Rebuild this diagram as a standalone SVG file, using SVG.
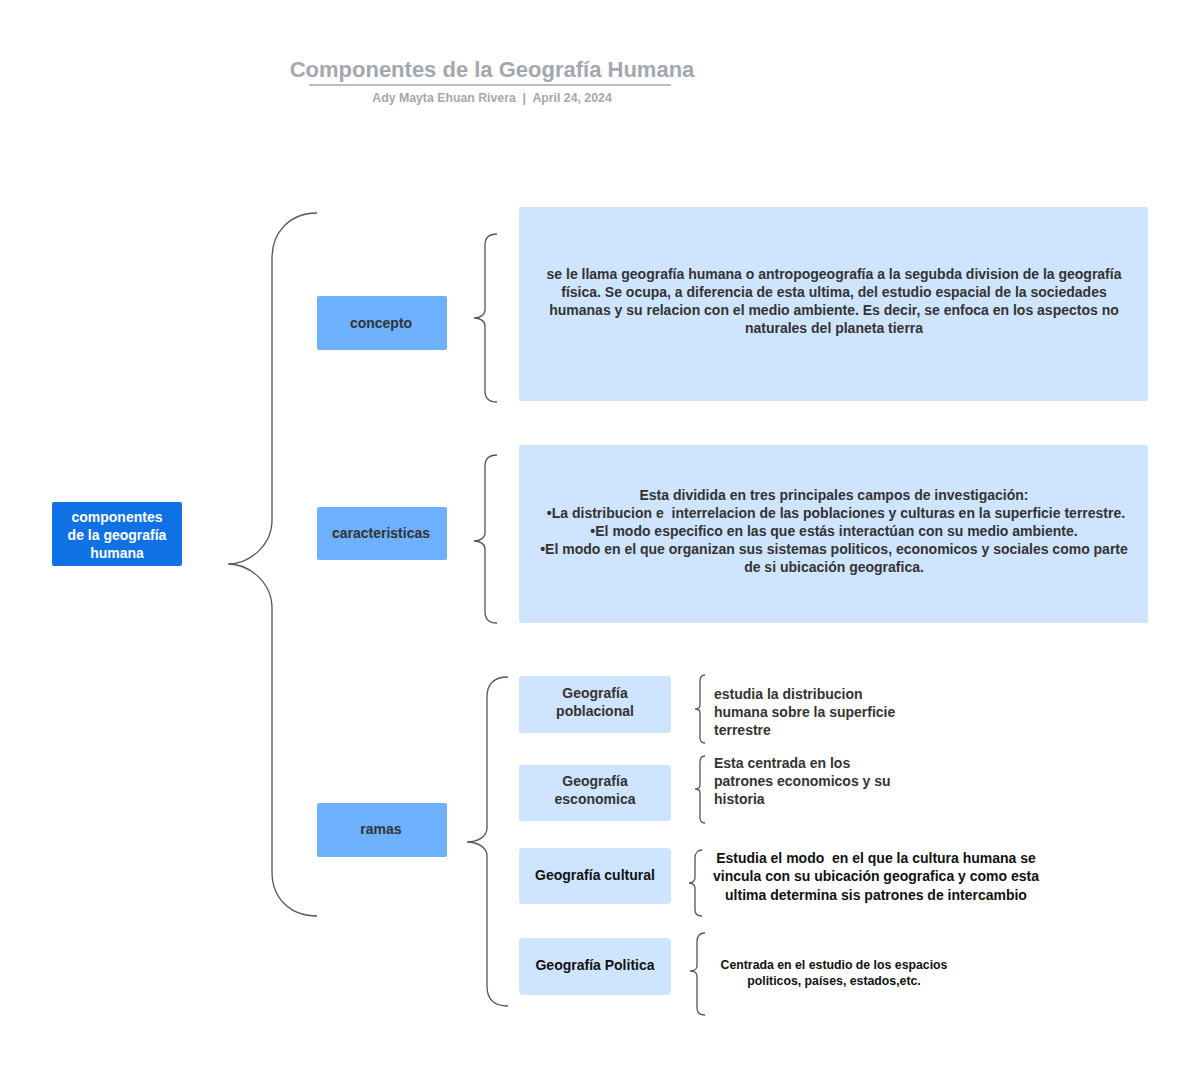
<svg xmlns="http://www.w3.org/2000/svg" width="1200" height="1066" viewBox="0 0 1200 1066">
<style>
text{font-family:"Liberation Sans",Arial,sans-serif;white-space:pre}
.t{font-size:14px;font-weight:bold;fill:#333;text-anchor:middle}
.l{font-size:14px;font-weight:bold;fill:#333}
.k{font-size:14px;font-weight:bold;fill:#111;text-anchor:middle}
.br{fill:none;stroke:#555;stroke-width:1.3}
.mid{fill:#6DB1FF}
.pale{fill:#CFE4FF}
</style>
<rect width="1200" height="1066" fill="#fff"/>
<g id="title">
<text x="492" y="77" style="font-size:22px;font-weight:bold;fill:#A3A7AF;text-anchor:middle">Componentes de la Geografía Humana</text>
<line x1="309" y1="85" x2="671" y2="85" stroke="#A3A7AF" stroke-width="1.5"/>
<text x="492" y="102" style="font-size:12.3px;font-weight:bold;fill:#A3A7AF;text-anchor:middle">Ady Mayta Ehuan Rivera  |  April 24, 2024</text>
</g>
<g id="connectors">
<path class="br" d="M317,213 C290,213 272,232 272,258 L272,520 C272,545 250,564 228,564 C250,564 272,583 272,608 L272,872 C272,898 290,916 317,916"/>
<path class="br" d="M497,234 C489,234 485,238 485,245 L485,310 C485,315 480,318 474,318 C480,318 485,321 485,326 L485,391 C485,398 489,402 497,402"/>
<path class="br" d="M497,455 C489,455 485,459 485,466 L485,533 C485,538 480,541 474,541 C480,541 485,544 485,549 L485,612 C485,619 489,623 497,623"/>
<path class="br" d="M508,677 C494,677 487,684 487,697 L487,828 C487,837 477,842 467,842 C477,842 487,847 487,856 L487,986 C487,999 494,1006 508,1006"/>
<path class="br" d="M705,675 C702,675 700,677 700,681 L700,705 C700,708 698,709 695,709 C698,709 700,710 700,713 L700,738 C700,741 702,743 705,743"/>
<path class="br" d="M705,756 C702,756 700,758 700,762 L700,785 C700,788 698,789 695,789 C698,789 700,790 700,793 L700,818 C700,821 702,823 705,823"/>
<path class="br" d="M702,850 C698,850 695,853 695,858 L695,878 C695,881 692,883 689,883 C692,883 695,885 695,888 L695,910 C695,914 698,916 702,916"/>
<path class="br" d="M705,933 C700,933 697,936 697,942 L697,966 C697,969 694,971 690,971 C694,971 697,973 697,976 L697,1008 C697,1013 700,1015 705,1015"/>
</g>
<g id="root">
<rect x="52" y="502" width="130" height="64" rx="2" fill="#1071E5"/>
<text x="117" y="522" style="font-size:14px;font-weight:bold;fill:#fff;text-anchor:middle">componentes</text>
<text x="117" y="540" style="font-size:14px;font-weight:bold;fill:#fff;text-anchor:middle">de la geografía</text>
<text x="117" y="558" style="font-size:14px;font-weight:bold;fill:#fff;text-anchor:middle">humana</text>
</g>
<g id="concepto">
<rect class="mid" x="317" y="296" width="130" height="54" rx="2"/>
<text class="t" x="381" y="328">concepto</text>
</g>
<g id="caracteristicas">
<rect class="mid" x="317" y="507" width="130" height="53" rx="2"/>
<text class="t" x="381" y="538">caracteristicas</text>
</g>
<g id="ramas">
<rect class="mid" x="317" y="803" width="130" height="54" rx="2"/>
<text class="t" x="381" y="834">ramas</text>
</g>
<g id="concepto-desc">
<rect class="pale" x="519" y="207" width="629" height="194" rx="2"/>
<text class="t" x="834" y="279">se le llama geografía humana o antropogeografía a la segubda division de la geografía</text>
<text class="t" x="834" y="297">física. Se ocupa, a diferencia de esta ultima, del estudio espacial de la sociedades</text>
<text class="t" x="834" y="315">humanas y su relacion con el medio ambiente. Es decir, se enfoca en los aspectos no</text>
<text class="t" x="834" y="333">naturales del planeta tierra</text>
</g>
<g id="caracteristicas-desc">
<rect class="pale" x="519" y="445" width="629" height="178" rx="2"/>
<text class="t" x="834" y="500">Esta dividida en tres principales campos de investigación:</text>
<text class="t" x="836" y="518">•La distribucion e  interrelacion de las poblaciones y culturas en la superficie terrestre.</text>
<text class="t" x="834" y="536">•El modo especifico en las que estás interactúan con su medio ambiente.</text>
<text class="t" x="834" y="554">•El modo en el que organizan sus sistemas politicos, economicos y sociales como parte</text>
<text class="t" x="834" y="572">de si ubicación geografica.</text>
</g>
<g id="poblacional">
<rect class="pale" x="519" y="676" width="152" height="57" rx="3"/>
<text class="t" x="595" y="698">Geografía</text>
<text class="t" x="595" y="716">poblacional</text>
</g>
<g id="economica">
<rect class="pale" x="519" y="765" width="152" height="56" rx="3"/>
<text class="t" x="595" y="786">Geografía</text>
<text class="t" x="595" y="804">esconomica</text>
</g>
<g id="cultural">
<rect class="pale" x="519" y="848" width="152" height="56" rx="4"/>
<text class="k" x="595" y="880">Geografía cultural</text>
</g>
<g id="politica">
<rect class="pale" x="519" y="938" width="152" height="57" rx="4"/>
<text class="k" x="595" y="970">Geografía Politica</text>
</g>
<g id="poblacional-desc">
<text class="l" x="714" y="699">estudia la distribucion</text>
<text class="l" x="714" y="717">humana sobre la superficie</text>
<text class="l" x="714" y="735">terrestre</text>
</g>
<g id="economica-desc">
<text class="l" x="714" y="768">Esta centrada en los</text>
<text class="l" x="714" y="786">patrones economicos y su</text>
<text class="l" x="714" y="804">historia</text>
</g>
<g id="cultural-desc">
<text class="k" x="876" y="863">Estudia el modo  en el que la cultura humana se</text>
<text class="k" x="876" y="881">vincula con su ubicación geografica y como esta</text>
<text class="k" x="876" y="900">ultima determina sis patrones de intercambio</text>
</g>
<g id="politica-desc">
<text class="k" x="834" y="969" style="font-size:12.3px">Centrada en el estudio de los espacios</text>
<text class="k" x="834" y="985" style="font-size:12.3px">politicos, países, estados,etc.</text>
</g>
</svg>
